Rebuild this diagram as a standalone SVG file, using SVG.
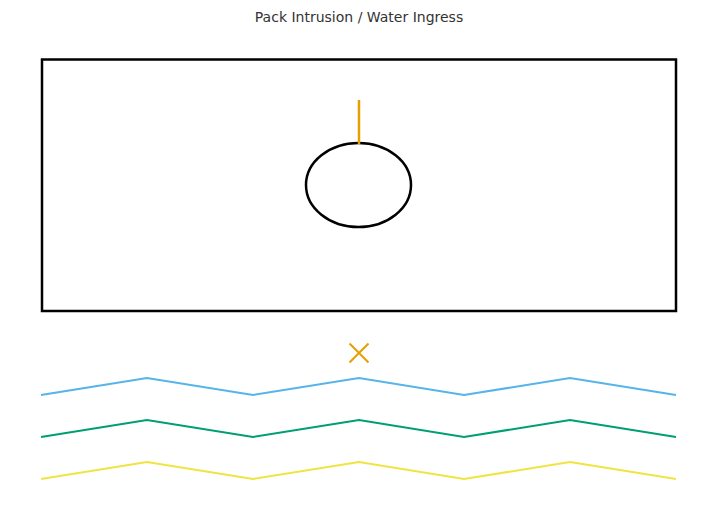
<svg xmlns="http://www.w3.org/2000/svg" width="717" height="510" viewBox="0 0 717 510">
<style>
.title{font-family:"DejaVu Sans",sans-serif;font-size:14px;fill:#333333;text-anchor:middle}
.outline{fill:none;stroke:#000000;stroke-width:2.5}
.wave{fill:none;stroke-width:2}
</style>
<rect width="717" height="510" fill="#ffffff"/>
<text class="title" x="359" y="21.5">Pack Intrusion / Water Ingress</text>
<g id="pack">
<rect class="outline" x="42" y="59.5" width="634" height="251.5"/>
</g>
<g id="cell">
<ellipse class="outline" cx="358.5" cy="185" rx="52.5" ry="42"/>
</g>
<g id="connectors">
<line x1="359" y1="100" x2="359" y2="144" stroke="#E69F00" stroke-width="2.5"/>
</g>
<g id="breach">
<path d="M349.5 343.5 L368.5 362.5 M368.5 343.5 L349.5 362.5" stroke="#E69F00" stroke-width="2" fill="none"/>
</g>
<g id="water">
<polyline class="wave" stroke="#56B4E9" points="41,395 147,378 253,395 359,378 464,395 570,378 676,395"/>
<polyline class="wave" stroke="#009E73" points="41,437 147,420 253,437 359,420 464,437 570,420 676,437"/>
<polyline class="wave" stroke="#F0E442" points="41,479 147,462 253,479 359,462 464,479 570,462 676,479"/>
</g>
</svg>
